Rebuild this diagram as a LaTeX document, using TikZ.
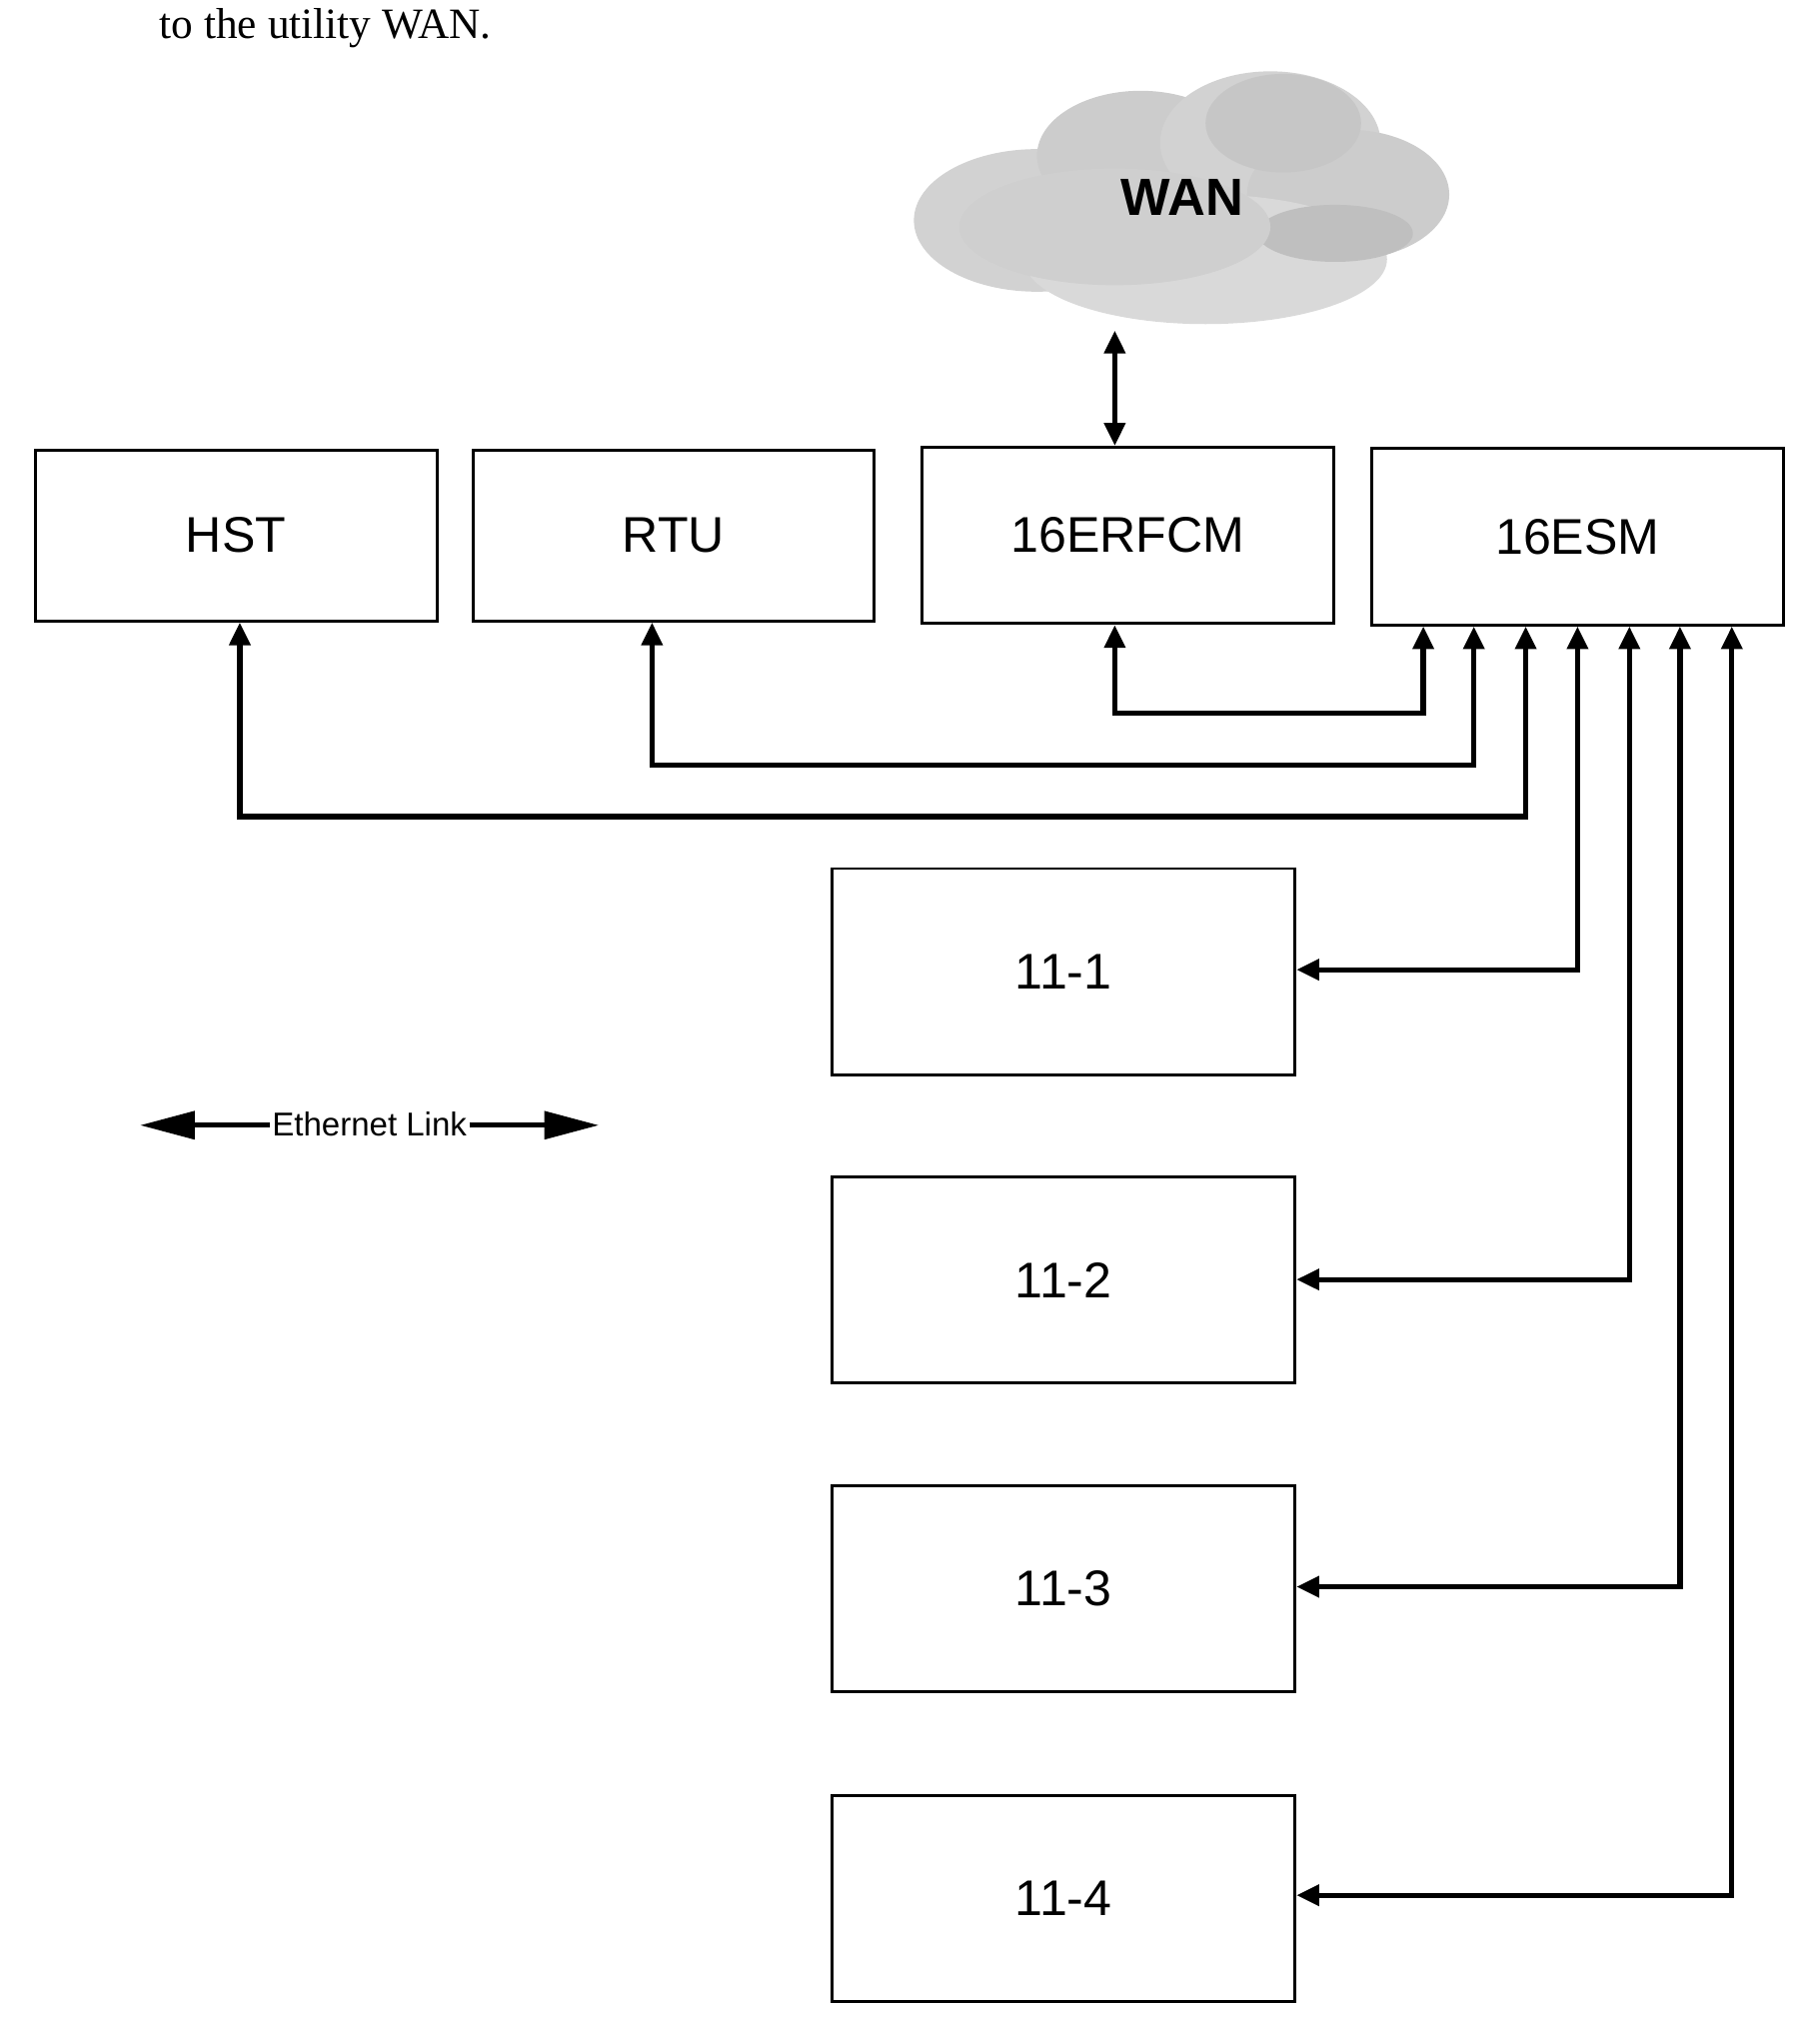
\documentclass[tikz,border=0pt]{standalone}
\usepackage{fontspec}
\setmainfont{Liberation Sans}
\newfontfamily\serifft{Liberation Serif}
\usetikzlibrary{arrows.meta}
\begin{document}
\begin{tikzpicture}[x=0.02cm,y=-0.02cm,
  box/.style={draw,line width=1.3pt,inner sep=0pt,font=\fontsize{22}{26}\selectfont},
  link/.style={line width=2.3pt,{Triangle[length=10pt,width=9pt]}-{Triangle[length=10pt,width=9pt]}}]
\useasboundingbox (0,0) rectangle (1404,1559);
\node[anchor=base west,font=\serifft\fontsize{19}{22}\selectfont] (cap) at (117,30) {to the utility WAN.};
% cloud
\begin{scope}
\fill[gray!35] (800,170) ellipse (95 and 55);
\fill[gray!40] (880,120) ellipse (80 and 50);
\fill[gray!35] (980,110) ellipse (85 and 55);
\fill[gray!40] (1040,150) ellipse (78 and 50);
\fill[gray!30] (930,200) ellipse (140 and 50);
\fill[gray!45] (990,95) ellipse (60 and 38);
\fill[gray!50] (1030,180) ellipse (60 and 22);
\fill[gray!38] (860,175) ellipse (120 and 45);
\end{scope}
\node[font=\bfseries\fontsize{23}{28}\selectfont] (wan) at (912,152) {WAN};
\coordinate (wanb) at (860,255);
% boxes
\node[box,minimum width=310*0.02cm,minimum height=132*0.02cm] (hst) at (182,413) {HST};
\node[box,minimum width=309*0.02cm,minimum height=132*0.02cm] (rtu) at (519.5,413) {RTU};
\node[box,minimum width=318*0.02cm,minimum height=136*0.02cm] (erf) at (870,413) {16ERFCM};
\node[box,minimum width=318*0.02cm,minimum height=136*0.02cm] (esm) at (1217,414) {16ESM};
\foreach \n/\y in {1/749.5,2/987.5,3/1225.5,4/1464.5}
  \node[box,minimum width=357*0.02cm,minimum height=159*0.02cm] (d\n) at (820.5,\y) {11-\n};
% links
\draw[link] (wanb) -- (erf.north -| wanb);
\draw[link] (erf.south -| 860,0) -- (860,550) -- (1098,550) -- (esm.south -| 1098,0);
\draw[link] (rtu.south -| 503,0) -- (503,590) -- (1137,590) -- (esm.south -| 1137,0);
\draw[link] (hst.south -| 185,0) -- (185,630) -- (1177,630) -- (esm.south -| 1177,0);
\draw[link] (esm.south -| 1217,0) -- (1217,748) -- (d1.east |- 0,748);
\draw[link] (esm.south -| 1257,0) -- (1257,987) -- (d2.east |- 0,987);
\draw[link] (esm.south -| 1296,0) -- (1296,1224) -- (d3.east |- 0,1224);
\draw[link] (esm.south -| 1336,0) -- (1336,1462) -- (d4.east |- 0,1462);
% legend
\node[font=\fontsize{14.5}{17}\selectfont,inner sep=1pt] (leg) at (285,867) {Ethernet Link};
\coordinate (l1) at (108,868); \coordinate (l2) at (462,868);
\draw[line width=2.3pt,{Triangle[length=24pt,width=12pt]}-] (l1) -- (leg.west |- l1);
\draw[line width=2.3pt,-{Triangle[length=24pt,width=12pt]}] (leg.east |- l2) -- (l2);
\end{tikzpicture}
\end{document}
